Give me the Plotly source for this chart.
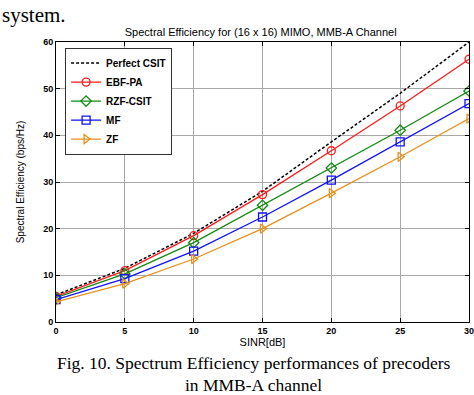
import plotly.graph_objects as go

sinr = [0, 5, 10, 15, 20, 25, 30]
perfect_csit = [5.8, 11.5, 19.0, 28.0, 38.6, 49.0, 60.0]
ebf_pa = [5.5, 11.0, 18.5, 27.3, 36.7, 46.3, 56.3]
rzf_csit = [5.2, 10.3, 17.0, 25.0, 33.0, 41.1, 49.5]
mf = [4.8, 9.3, 15.2, 22.5, 30.4, 38.6, 46.8]
zf = [4.3, 8.2, 13.5, 20.0, 27.6, 35.4, 43.6]

x_ticks = [0, 5, 10, 15, 20, 25, 30]
y_ticks = [0, 10, 20, 30, 40, 50, 60]

fig = go.Figure()
fig.add_trace(go.Scatter(x=sinr, y=perfect_csit, mode="lines", name="Perfect CSIT",
                         line=dict(color="black", dash="3px,2px", width=1.5)))
series = [
    ("EBF-PA", ebf_pa, "#ff1a1a", "circle-open"),
    ("RZF-CSIT", rzf_csit, "#138a13", "diamond-open"),
    ("MF", mf, "#1010ff", "square-open"),
    ("ZF", zf, "#e8901a", "triangle-right-open"),
]
for name, vals, col, sym in series:
    fig.add_trace(go.Scatter(x=sinr, y=vals, mode="lines+markers", name=name,
                             line=dict(color=col, width=1.3),
                             marker=dict(symbol=sym, size=8, color=col,
                                         line=dict(color=col, width=1.3))))

axis_common = dict(showline=True, linecolor="black", linewidth=1, mirror="ticks",
                   ticks="inside", ticklen=4, tickcolor="black", automargin=False,
                   ticklabeloverflow="allow",
                   showgrid=True, gridcolor="#a8a8a8", gridwidth=1, zeroline=False,
                   tickfont=dict(family="Liberation Sans", size=9, color="black", weight="bold"))

fig.update_xaxes(range=[0, 30], tickvals=x_ticks, ticktext=[str(v) for v in x_ticks],
                 title=dict(text="SINR[dB]", font=dict(family="Liberation Sans", size=11, color="black"),
                            standoff=2), **axis_common)
fig.update_yaxes(range=[0, 60], tickvals=y_ticks, ticktext=[str(v) for v in y_ticks],
                 title=dict(text="Spectral Efficiency (bps/Hz)",
                            font=dict(family="Liberation Sans", size=10, color="black"), standoff=16),
                 **axis_common)

fig.update_layout(
    width=474, height=395,
    margin=dict(l=56, r=5, t=42, b=73),
    paper_bgcolor="white", plot_bgcolor="white",
    showlegend=True,
    legend=dict(x=0.022, y=0.98, xanchor="left", yanchor="top",
                bgcolor="white", bordercolor="#333333", borderwidth=1,
                font=dict(family="Liberation Sans", size=10, color="black", weight="bold"),
                tracegroupgap=0, itemwidth=30),
    title=dict(text="Spectral Efficiency for (16 x 16) MIMO, MMB-A Channel",
               font=dict(family="Liberation Sans", size=11, color="black"),
               x=0.55, xanchor="center", y=0.918, yanchor="middle"),
    annotations=[
        dict(text="system.", xref="paper", yref="paper", x=-0.135, y=1.146,
             xanchor="left", yanchor="top", showarrow=False,
             font=dict(family="Liberation Serif", size=21, color="black")),
        dict(text="Fig. 10. Spectrum Efficiency performances of precoders", xref="paper", yref="paper",
             x=0.479, y=-0.146, xanchor="center", yanchor="middle", showarrow=False,
             font=dict(family="Liberation Serif", size=17.5, color="black")),
        dict(text="in MMB-A channel", xref="paper", yref="paper",
             x=0.479, y=-0.224, xanchor="center", yanchor="middle", showarrow=False,
             font=dict(family="Liberation Serif", size=17.5, color="black")),
    ],
)

fig.write_html("out.html", config={"displayModeBar": False},
               post_script="document.body.style.margin='0';document.body.style.overflow='hidden';")
